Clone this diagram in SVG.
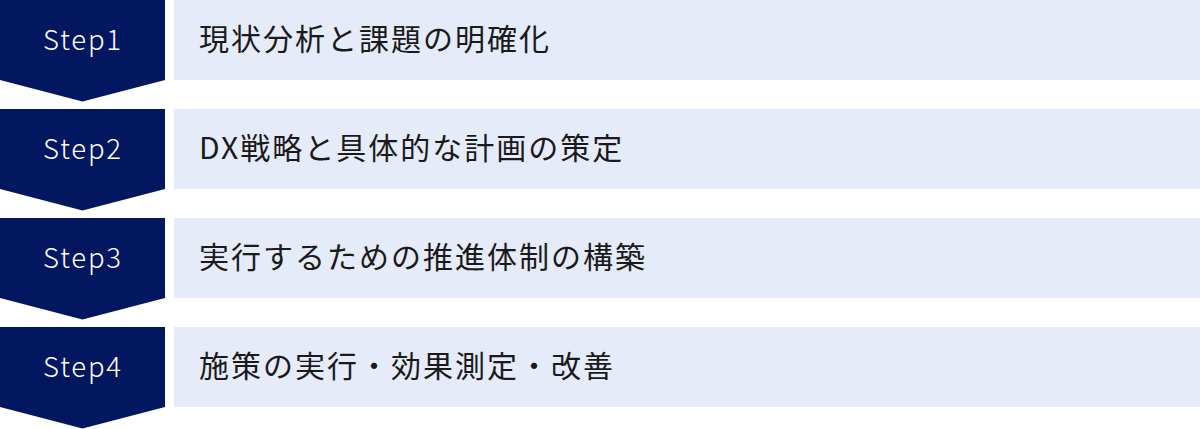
<svg xmlns="http://www.w3.org/2000/svg" width="1200" height="429" viewBox="0 0 1200 429">
  <defs>
    <style>
      .step { fill: #031761; }
      .bar { fill: #e5ebf8; }
      .lbl { font-family: "Noto Sans CJK JP", "Noto Sans", sans-serif; font-size: 27.5px; font-weight: 300; fill: #ffffff; letter-spacing: 1.8px; text-anchor: middle; }
      .txt { font-family: "Noto Sans CJK JP", "Noto Sans", sans-serif; font-size: 30px; fill: #1a1a1a; letter-spacing: 2px; }
    </style>
  </defs>
  <rect width="1200" height="429" fill="#ffffff"/>
  <g id="step1">
    <polygon class="step" points="0,0 165,0 165,80 82.5,101.5 0,80"/>
    <text class="lbl" x="83" y="49.5">Step1</text>
    <rect class="bar" x="174" y="0" width="1026" height="80"/>
    <text class="txt" x="199" y="50">現状分析と課題の明確化</text>
  </g>
  <g id="step2">
    <polygon class="step" points="0,109 165,109 165,189 82.5,210.5 0,189"/>
    <text class="lbl" x="83" y="158.5">Step2</text>
    <rect class="bar" x="174" y="109" width="1026" height="80"/>
    <text class="txt" x="199" y="159">DX戦略と具体的な計画の策定</text>
  </g>
  <g id="step3">
    <polygon class="step" points="0,218 165,218 165,298 82.5,319.5 0,298"/>
    <text class="lbl" x="83" y="267.5">Step3</text>
    <rect class="bar" x="174" y="218" width="1026" height="80"/>
    <text class="txt" x="199" y="268">実行するための推進体制の構築</text>
  </g>
  <g id="step4">
    <polygon class="step" points="0,327 165,327 165,407 82.5,428.5 0,407"/>
    <text class="lbl" x="83" y="376.5">Step4</text>
    <rect class="bar" x="174" y="327" width="1026" height="80"/>
    <text class="txt" x="199" y="377">施策の実行・効果測定・改善</text>
  </g>
  <g id="connectors"/>
</svg>
